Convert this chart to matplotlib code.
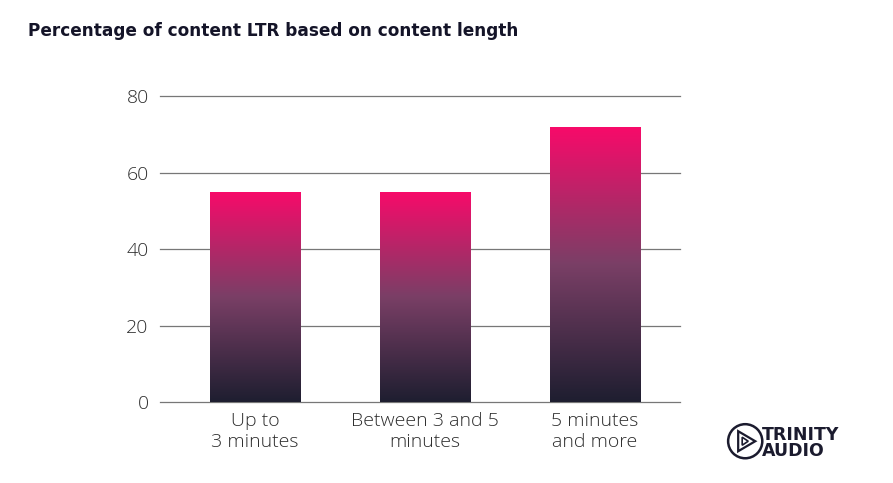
import matplotlib.pyplot as plt
import numpy as np
from matplotlib.colors import LinearSegmentedColormap
from matplotlib.patches import Circle, Polygon

categories = ['Up to\n3 minutes', 'Between 3 and 5\nminutes', '5 minutes\nand more']
values = [55, 55, 72]
yticks = [0, 20, 40, 60, 80]

plt.rcParams['font.family'] = ['Open Sans', 'DejaVu Sans']

fig = plt.figure(figsize=(8.93, 4.83), dpi=100)
ax = fig.add_axes([0.179, 0.1677, 0.582, 0.6335])

cmap = LinearSegmentedColormap.from_list('pinkdark', ['#1e1e30', '#7a3f66', '#f80a6a'])
bars = ax.bar(range(len(values)), values, width=0.53, color='none', zorder=3)
grad = np.linspace(0, 1, 256).reshape(-1, 1)
for b in bars:
    x0, y0 = b.get_x(), b.get_y()
    w, h = b.get_width(), b.get_height()
    im = ax.imshow(grad, cmap=cmap, origin='lower', aspect='auto',
                   extent=[x0, x0 + w, y0, y0 + h], zorder=3)
    im.set_clip_path(b)

ax.set_xlim(-0.56, 2.5)
ax.set_ylim(0, 80)
ax.set_yticks(yticks)
ax.set_xticks(range(len(categories)))
ax.set_xticklabels(categories, fontsize=14, color='#2e2e2e', linespacing=1.25,
                   fontweight='light')
for t in ax.get_yticklabels():
    t.set_fontweight('light')
ax.tick_params(axis='y', labelsize=14, labelcolor='#2e2e2e', length=0, pad=8)
ax.tick_params(axis='x', length=0, pad=7)
ax.grid(axis='y', color='#777777', linewidth=0.9, zorder=0)
for gl in ax.get_ygridlines():
    gl.set_clip_on(False)
ax.set_axisbelow(True)
for s in ax.spines.values():
    s.set_visible(False)

fig.text(0.031, 0.935, 'Percentage of content LTR based on content length',
         fontsize=12.2, fontweight='bold', color='#141428', va='center',
         family='DejaVu Sans')

# logo
lax = fig.add_axes([0.812, 0.045, 0.045, 0.083])
lax.set_xlim(-1, 1)
lax.set_ylim(-1, 1)
lax.axis('off')
lax.add_patch(Circle((0, 0), 0.85, fill=False, lw=1.8, ec='#1b1b2e'))
lax.add_patch(Polygon([[-0.35, 0.5], [-0.35, -0.5], [0.5, 0]], closed=True, fill=False, lw=1.6, ec='#1b1b2e'))
lax.add_patch(Polygon([[-0.15, 0.2], [-0.15, -0.2], [0.15, 0]], closed=True, fill=False, lw=1.2, ec='#1b1b2e'))
fig.text(0.853, 0.1, 'TRINITY', fontsize=12.5, fontweight='heavy', color='#1b1b2e', va='center',
         family='DejaVu Sans')
fig.text(0.853, 0.066, 'AUDIO', fontsize=12.5, fontweight='heavy', color='#1b1b2e', va='center',
         family='DejaVu Sans')

fig.savefig('out.png', dpi=100)
